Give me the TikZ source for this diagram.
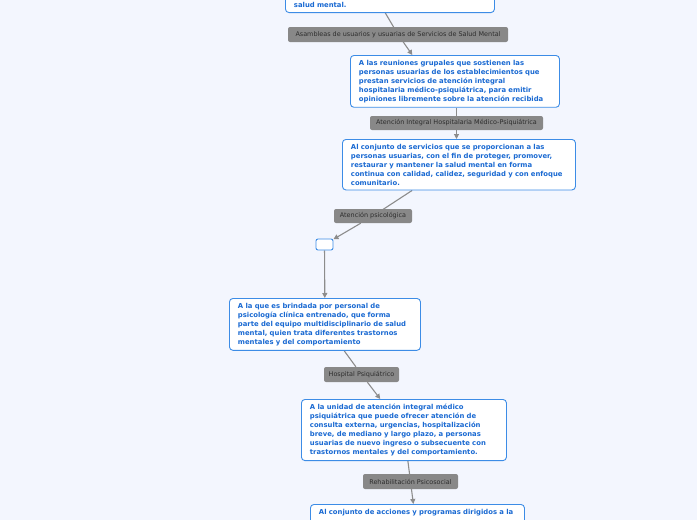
\documentclass[tikz,border=0pt]{standalone}
\usepackage{fontspec}
\setmainfont{DejaVu Sans}
\usetikzlibrary{arrows.meta,calc,backgrounds}
\definecolor{bgc}{RGB}{243,246,254}
\definecolor{bord}{RGB}{60,140,230}
\definecolor{btxt}{RGB}{25,105,210}
\definecolor{lfill}{RGB}{136,136,136}
\definecolor{ltxt}{RGB}{45,45,45}
\definecolor{connc}{RGB}{140,140,140}
\begin{document}
\begin{tikzpicture}[x=1pt,y=-1pt,
 box/.style={draw=bord, line width=0.9pt, fill=white, rounded corners=3.5pt, text=btxt,
   font=\fontsize{6.85}{9}\selectfont\bfseries, align=left, inner xsep=8.5pt, inner ysep=4.6pt, anchor=north west},
 lab/.style={fill=lfill, rounded corners=2pt, text=ltxt, font=\fontsize{6.45}{7}\selectfont,
   inner sep=0pt},
 conn/.style={draw=connc, line width=1.1pt},
 arr/.style={conn, -{Triangle[length=5pt,width=5pt]}}]
\useasboundingbox (0,0) rectangle (697,520);
% boxes
\node[box, anchor=south west, text width=192pt, text height=40pt] (b1) at (285,13) {salud mental.};
\node[box, text width=192pt] (b3) at (350,55) {A las reuniones grupales que sostienen las\\personas usuarias de los establecimientos que\\prestan servicios de atención integral\\hospitalaria médico-psiquiátrica, para emitir\\opiniones libremente sobre la atención recibida};
\node[box, text width=216pt] (b5) at (342,139) {Al conjunto de servicios que se proporcionan a las\\personas usuarias, con el fin de proteger, promover,\\restaurar y mantener la salud mental en forma\\continua con calidad, calidez, seguridad y con enfoque\\comunitario.};
\node[draw=bord, line width=0.9pt, fill=white, rounded corners=2pt, minimum width=17pt, minimum height=11pt, inner sep=0pt] (b7) at (324.5,244.5) {};
\node[box, text width=174pt] (b8) at (229,298) {A la que es brindada por personal de\\psicología clínica entrenado, que forma\\parte del equipo multidisciplinario de salud\\mental, quien trata diferentes trastornos\\mentales y del comportamiento};
\node[box, text width=188pt] (b10) at (301,399) {A la unidad de atención integral médico\\psiquiátrica que puede ofrecer atención de\\consulta externa, urgencias, hospitalización\\breve, de mediano y largo plazo, a personas\\usuarias de nuevo ingreso o subsecuente con\\trastornos mentales y del comportamiento.};
\node[box, text width=197pt, text depth=30pt] (b12) at (310,504) {Al conjunto de acciones y programas dirigidos a la};
% labels
\node[lab, minimum width=220pt, minimum height=15pt] (L2) at (398,34.5) {Asambleas de usuarios y usuarias de Servicios de Salud Mental};
\node[lab, minimum width=173pt, minimum height=14pt] (L4) at (456.5,123) {Atención Integral Hospitalaria Médico-Psiquiátrica};
\node[lab, minimum width=78pt, minimum height=14pt] (L6) at (373,216) {Atención psicológica};
\node[lab, minimum width=75pt, minimum height=15pt] (L9) at (361.5,374.5) {Hospital Psiquiátrico};
\node[lab, minimum width=95pt, minimum height=15pt] (L11) at (410.5,481.5) {Rehabilitación Psicosocial};
% connectors
\begin{scope}[on background layer]
\fill[bgc] (0,0) rectangle (697,520);
\draw[conn] ($(b1.south west)!0.478!(b1.south east)$) -- (L2.center);
\draw[arr] (L2.center) -- ($(b3.north west)!0.297!(b3.north east)$);
\draw[conn] (L4.center |- b3.south) -- (L4.center);
\draw[arr] (L4.center) -- (L4.center |- b5.north);
\draw[conn] ($(b5.south west)!0.30!(b5.south east)$) -- (L6.center);
\draw[arr] (L6) -- (b7);
\draw[arr] (b7) -- (b8);
\draw[conn] (b8) -- (L9);
\draw[arr] (L9) -- (b10);
\draw[conn] (b10) -- (L11);
\draw[arr] (L11) -- ($(b12.north west)!0.481!(b12.north east)$);
\end{scope}
\end{tikzpicture}
\end{document}
